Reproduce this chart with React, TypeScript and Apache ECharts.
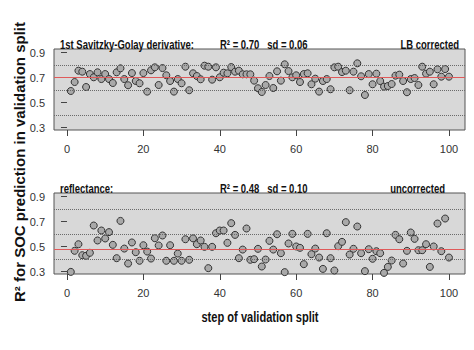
import React, { useEffect, useRef } from "react";
import * as echarts from "echarts";

const steps: number[] = Array.from({ length: 100 }, (_, i) => i + 1);

const derivativeR2: number[] = [
  0.593, 0.665, 0.756, 0.748, 0.625, 0.729, 0.703, 0.743, 0.689, 0.729,
  0.689, 0.657, 0.743, 0.775, 0.689, 0.639, 0.737, 0.673, 0.655, 0.737,
  0.588, 0.759, 0.783, 0.641, 0.777, 0.719, 0.673, 0.588, 0.689, 0.655,
  0.788, 0.599, 0.735, 0.713, 0.687, 0.796, 0.788, 0.684, 0.783, 0.703,
  0.74, 0.735, 0.785, 0.748, 0.756, 0.727, 0.727, 0.727, 0.676, 0.615,
  0.585, 0.641, 0.713, 0.617, 0.751, 0.676, 0.807, 0.753, 0.703, 0.719,
  0.665, 0.729, 0.735, 0.647, 0.692, 0.588, 0.673, 0.689, 0.607, 0.783,
  0.788, 0.745, 0.756, 0.599, 0.748, 0.815, 0.711, 0.561, 0.729, 0.647,
  0.732, 0.673, 0.628, 0.633, 0.649, 0.716, 0.724, 0.673, 0.583, 0.689,
  0.697, 0.641, 0.788, 0.732, 0.748, 0.647, 0.767, 0.708, 0.769, 0.708,
];

const reflectanceR2: number[] = [
  0.297, 0.466, 0.519, 0.431, 0.426, 0.45, 0.669, 0.549, 0.629, 0.565,
  0.616, 0.514, 0.407, 0.706, 0.484, 0.364, 0.533, 0.455, 0.386, 0.511,
  0.46, 0.404, 0.567, 0.509, 0.589, 0.386, 0.511, 0.386, 0.444, 0.386,
  0.559, 0.394, 0.566, 0.519, 0.549, 0.498, 0.327, 0.498, 0.607, 0.629,
  0.629, 0.53, 0.688, 0.594, 0.407, 0.476, 0.645, 0.394, 0.399, 0.482,
  0.34, 0.396, 0.546, 0.476, 0.599, 0.447, 0.295, 0.525, 0.602, 0.501,
  0.49, 0.359, 0.602, 0.439, 0.484, 0.412, 0.321, 0.607, 0.407, 0.308,
  0.503, 0.538, 0.696, 0.436, 0.482, 0.661, 0.447, 0.303, 0.479, 0.402,
  0.463, 0.447, 0.289, 0.337, 0.388, 0.594, 0.559, 0.364, 0.466, 0.613,
  0.562, 0.471, 0.471, 0.519, 0.337, 0.501, 0.685, 0.463, 0.725, 0.412,
];

const panelTitles: string[] = ["1st Savitzky-Golay derivative:", "reflectance:"];
const panelStats: string[] = ["R\u00b2 = 0.70   sd = 0.06", "R\u00b2 = 0.48   sd = 0.10"];
const panelNotes: string[] = ["LB corrected", "uncorrected"];
const meanR2: number[] = [0.7, 0.48];
const gridLines: number[] = [0.4, 0.6, 0.8];
const xTicks: number[] = [0, 20, 40, 60, 80, 100];
const yTicks: number[] = [0.3, 0.5, 0.7, 0.9];

const SANS = "'Liberation Sans', Arial, Helvetica, sans-serif";

export default function App() {
  const ref = useRef<HTMLDivElement>(null);

  useEffect(() => {
    if (!ref.current) return;
    const chart = echarts.init(ref.current, undefined, { renderer: "svg" });

    const gridTops = [49, 193];
    const noteRight = [459, 445];
    const series: any[] = [];
    const grids: any[] = [];
    const xAxes: any[] = [];
    const yAxes: any[] = [];
    const graphics: any[] = [];
    const panels = [derivativeR2, reflectanceR2];

    panels.forEach((vals, p) => {
      grids.push({
        left: 54,
        top: gridTops[p],
        width: 411,
        height: 81,
        show: true,
        backgroundColor: "#d8d8d8",
        borderColor: "#555555",
        borderWidth: 1,
      });
      xAxes.push({
        type: "value",
        gridIndex: p,
        min: -3.4,
        max: 104.2,
        axisLine: { show: false },
        splitLine: { show: false },
        axisTick: {
          show: true,
          length: 6,
          customValues: xTicks,
          lineStyle: { color: "#444" },
        },
        axisLabel: {
          show: true,
          customValues: xTicks,
          margin: 13,
          color: "#333",
          fontSize: 11,
          fontFamily: SANS,
        },
      });
      yAxes.push({
        type: "value",
        gridIndex: p,
        min: 0.28,
        max: 0.93,
        axisLine: { show: false },
        splitLine: { show: false },
        axisTick: {
          show: true,
          length: 6,
          customValues: yTicks,
          lineStyle: { color: "#444" },
        },
        axisLabel: {
          show: true,
          customValues: yTicks,
          margin: 9,
          color: "#333",
          fontSize: 11,
          fontFamily: SANS,
          formatter: (v: number) => v.toFixed(1),
        },
      });
      series.push({
        type: "scatter",
        xAxisIndex: p,
        yAxisIndex: p,
        data: [],
        z: 1,
        silent: true,
        markLine: {
          silent: true,
          symbol: "none",
          label: { show: false },
          animation: false,
          data: [
            ...gridLines.map((g) => ({
              yAxis: g,
              lineStyle: { type: "dotted", color: "#6a6a6a", width: 1 },
            })),
            {
              yAxis: meanR2[p],
              lineStyle: { type: "solid", color: "#e05a5a", width: 1.2 },
            },
          ],
        },
      });
      series.push({
        type: "scatter",
        xAxisIndex: p,
        yAxisIndex: p,
        z: 3,
        symbol: "circle",
        symbolSize: 7,
        itemStyle: { color: "#a9a9a9", borderColor: "#333333", borderWidth: 1, opacity: 1 },
        data: vals.map((v, i) => [steps[i], v]),
      });

      const ty = gridTops[p] - 5;
      const titleStyle = {
        fontSize: 13,
        fontWeight: "bold",
        fontFamily: SANS,
        fill: "#111",
        verticalAlign: "middle",
      };
      graphics.push({
        type: "text",
        x: 60,
        y: ty,
        scaleX: 0.73,
        style: { text: panelTitles[p], align: "left", ...titleStyle },
      });
      graphics.push({
        type: "text",
        x: 220,
        y: ty,
        scaleX: 0.73,
        style: { text: panelStats[p], align: "left", ...titleStyle },
      });
      graphics.push({
        type: "text",
        x: noteRight[p],
        y: ty,
        scaleX: 0.73,
        style: { text: panelNotes[p], align: "right", ...titleStyle },
      });
    });

    graphics.push({
      type: "text",
      x: 19,
      y: 162,
      rotation: Math.PI / 2,
      style: {
        text: "R\u00b2 for SOC prediction in validation split",
        fontSize: 15,
        fontWeight: "bold",
        fontFamily: SANS,
        fill: "#111",
        align: "center",
        verticalAlign: "middle",
      },
    });
    graphics.push({
      type: "text",
      x: 260,
      y: 317,
      scaleX: 0.74,
      style: {
        text: "step of validation split",
        fontSize: 15,
        fontWeight: "bold",
        fontFamily: SANS,
        fill: "#111",
        align: "center",
        verticalAlign: "middle",
      },
    });

    chart.setOption({
      animation: false,
      backgroundColor: "#ffffff",
      grid: grids,
      xAxis: xAxes,
      yAxis: yAxes,
      series,
      graphic: graphics,
    });

    return () => chart.dispose();
  }, []);

  return <div ref={ref} style={{ width: 474, height: 350, position: "absolute", left: 0, top: 0 }} />;
}
